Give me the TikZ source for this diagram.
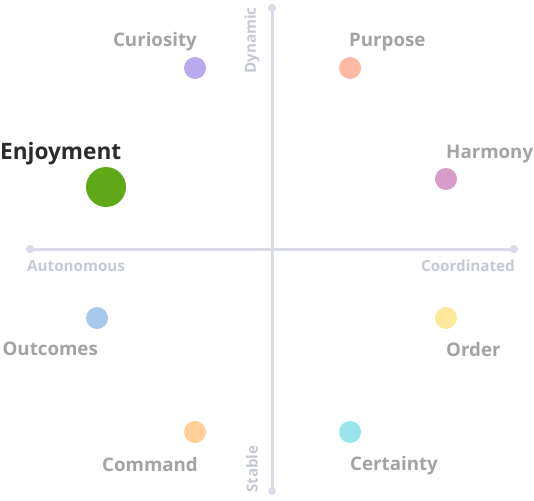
\documentclass[tikz,border=0pt]{standalone}
\usepackage{fontspec}
\setmainfont{Open Sans}
\definecolor{axisc}{HTML}{D9DCE8}
\definecolor{axtext}{HTML}{C5C9D4}
\definecolor{labc}{HTML}{A3A3A3}
\definecolor{enjc}{HTML}{2B2B2B}
\definecolor{cCur}{HTML}{BBA9EE}
\definecolor{cPur}{HTML}{FFB8A3}
\definecolor{cHar}{HTML}{D89CC8}
\definecolor{cEnj}{HTML}{5FA818}
\definecolor{cOut}{HTML}{A8C8EE}
\definecolor{cOrd}{HTML}{FFE89A}
\definecolor{cCom}{HTML}{FFD09A}
\definecolor{cCer}{HTML}{98E4EC}
\tikzset{
  axisline/.style={draw=axisc, line width=3pt},
  enddot/.style={circle, fill=axisc, inner sep=0pt, minimum size=8pt},
  dot/.style={circle, inner sep=0pt, minimum size=22pt},
  lab/.style={font=\fontsize{18.7}{22}\selectfont\bfseries, text=labc, inner sep=0pt},
  axlab/.style={font=\fontsize{15.2}{18}\selectfont\bfseries, text=axtext, inner sep=0pt},
}
\begin{document}
\begin{tikzpicture}[x=1pt,y=-1pt]
\useasboundingbox (0,0) rectangle (534,500);
% axes
\node[enddot] (vt) at (272,8) {};
\node[enddot] (vb) at (272,491) {};
\node[enddot] (hl) at (30,249) {};
\node[enddot] (hr) at (514,249) {};
\draw[axisline] (vt.center) -- (vb.center);
\draw[axisline] (hl.center) -- (hr.center);
% axis labels
\node[axlab, anchor=west] (aut) at (27,266) {Autonomous};
\node[axlab, anchor=east] (coo) at (515,266) {Coordinated};
\node[axlab, rotate=90, anchor=east] (dyn) at (252,7) {Dynamic};
\node[axlab, rotate=90, anchor=west] (sta) at (252,493) {Stable};
% dots
\node[dot, fill=cCur] (cur) at (195,68) {};
\node[dot, fill=cPur] (pur) at (350,68) {};
\node[dot, fill=cHar] (har) at (446,179) {};
\node[circle, inner sep=0pt, minimum size=40pt, fill=cEnj] (enj) at (106,187) {};
\node[dot, fill=cOut] (out) at (97,318) {};
\node[dot, fill=cOrd] (ord) at (446,318) {};
\node[dot, fill=cCom] (com) at (195,432) {};
\node[dot, fill=cCer] (cer) at (350,432) {};
% labels
\node[lab, anchor=east] (lcur) at (197,42) {Curiosity};
\node[lab, anchor=west] (lpur) at (349,42) {Purpose};
\node[lab, anchor=west] (lhar) at (446,154) {Harmony};
\node[font=\fontsize{22.6}{26}\selectfont\bfseries, text=enjc, inner sep=0pt, anchor=west] (lenj) at (0,154) {Enjoyment};
\node[lab, anchor=east] (lout) at (98,349) {Outcomes};
\node[lab, anchor=west] (lord) at (446,349) {Order};
\node[lab, anchor=east] (lcom) at (198,464) {Command};
\node[lab, anchor=west] (lcer) at (350,466) {Certainty};
\end{tikzpicture}
\end{document}
